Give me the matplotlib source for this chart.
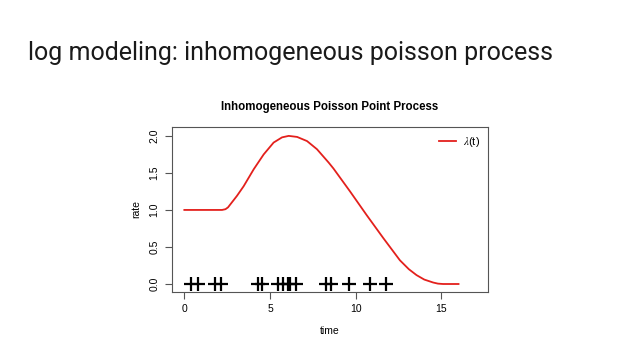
import numpy as np
import matplotlib.pyplot as plt

# rate curve
t = [0, 1.0, 2.0, 2.2, 2.4, 2.55, 2.69, 3.07, 3.46, 4.05, 4.63, 5.21, 5.70, 6.09,
     6.58, 7.16, 7.74, 8.42, 8.70, 9.67, 10.64, 11.61, 12.58, 13.1, 13.55, 14.0,
     14.52, 14.8, 15.1, 16.0]
rate = [1.0, 1.0, 1.0, 1.0, 1.01, 1.035, 1.077, 1.19, 1.32, 1.55, 1.75, 1.91, 1.98, 2.0,
        1.986, 1.93, 1.82, 1.64, 1.56, 1.25, 0.93, 0.62, 0.32, 0.2, 0.12, 0.06,
        0.02, 0.005, 0.0, 0.0]

# event times
events = [0.39, 0.82, 1.79, 2.14, 4.28, 4.51, 5.45, 5.74, 6.03, 6.19, 6.52,
          8.27, 8.56, 9.63, 10.86, 11.77]

plt.rcParams['font.family'] = ['Liberation Sans', 'DejaVu Sans']
plt.rcParams['mathtext.fontset'] = 'stix'

fig = plt.figure(figsize=(6.38, 3.59), dpi=100)
fig.text(28 / 638, 1 - 53 / 359, 'log modeling: inhomogeneous poisson process',
         fontsize=18, family='Roboto', va='center', ha='left', color='#1a1a1a')

ax = fig.add_axes([172 / 638, 1 - 292 / 359, 316 / 638, 165 / 359])
ax.plot(t, rate, color='#e3201c', lw=1.3, label=r'$\lambda$(t)')
ax.plot(events, np.zeros(len(events)), '+', color='black', ms=10, mew=1.6)

ax.set_xlim(-0.72, 17.72)
ax.set_ylim(-0.108, 2.12)
ax.set_xticks([0, 5, 10, 15])
ax.set_yticks([0.0, 0.5, 1.0, 1.5, 2.0])
ax.set_yticklabels(['0.0', '0.5', '1.0', '1.5', '2.0'], rotation=90, va='center')
ax.tick_params(labelsize=7.5, direction='out', length=5, pad=4, color='#555555')
for s in ax.spines.values():
    s.set_color('#555555')
ax.set_xlabel('time', fontsize=7.5, labelpad=8)
ax.set_ylabel('rate', fontsize=7.5, labelpad=6)
ax.set_title('Inhomogeneous Poisson Point Process', fontsize=8.3, fontweight='bold', pad=12)
ax.legend(loc='upper right', frameon=False, fontsize=8, handlelength=1.6,
          handletextpad=0.6, borderaxespad=0.3)

fig.savefig('out.png', dpi=100)
